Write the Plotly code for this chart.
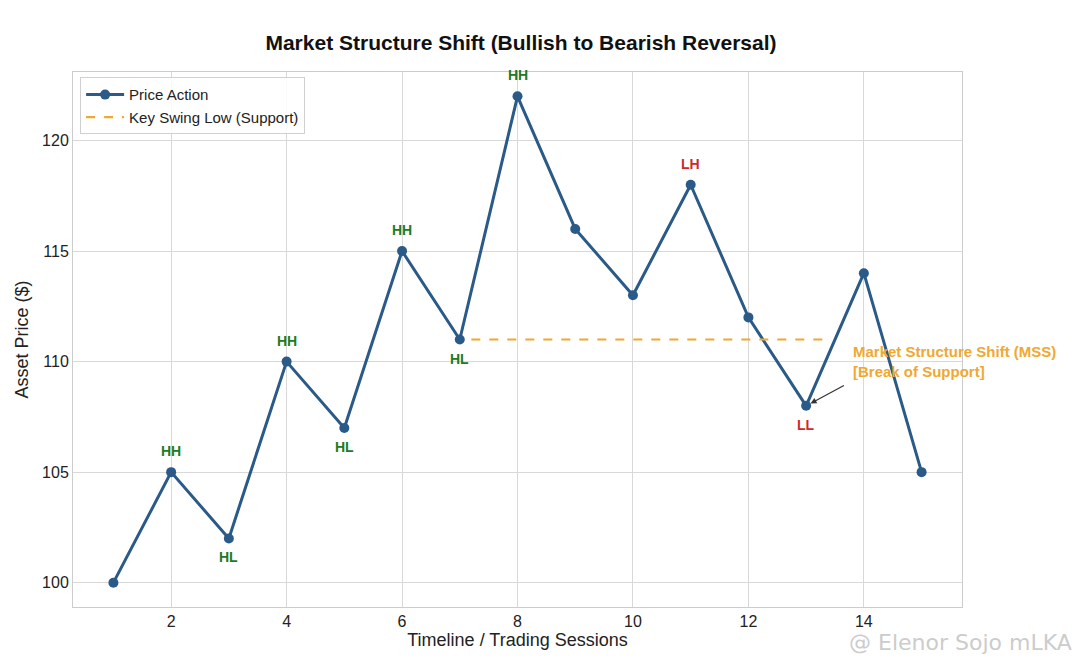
import plotly.graph_objects as go

sessions = list(range(1, 16))
prices = [100, 105, 102, 110, 107, 115, 111, 122, 116, 113, 118, 112, 108, 114, 105]

label_x = [2, 3, 4, 5, 6, 7, 8, 11, 13]
label_text = ["HH", "HL", "HH", "HL", "HH", "HL", "HH", "LH", "LL"]
label_pos = ["above", "below", "above", "below", "above", "below", "above", "above", "below"]
label_color = ["green", "green", "green", "green", "green", "green", "green", "red", "red"]

support_level = 111
support_x = [7.2, 13.3]

mss_x, mss_y = 13, 108
mss_text = "Market Structure Shift (MSS)<br>[Break of Support]"

LINE_C = "#2a5a87"
GREEN = "#217a21"
RED = "#cc2a2a"
ORANGE = "#f0a830"
col_map = {"green": GREEN, "red": RED}

fig = go.Figure()
fig.add_trace(go.Scatter(
    x=sessions, y=prices, mode="lines+markers", name="Price Action",
    line=dict(color=LINE_C, width=3), marker=dict(size=10, color=LINE_C)))
fig.add_trace(go.Scatter(
    x=support_x, y=[support_level, support_level], mode="lines",
    name="Key Swing Low (Support)",
    line=dict(color=ORANGE, width=2.2, dash="dash")))

annotations = []
for lx, lt, lp, lc in zip(label_x, label_text, label_pos, label_color):
    ly = prices[sessions.index(lx)]
    annotations.append(dict(
        x=lx, y=ly, text=f"<b>{lt}</b>", showarrow=False,
        yshift=21 if lp == "above" else -19,
        font=dict(family="Liberation Sans, Arial", size=14, color=col_map[lc])))

annotations.append(dict(
    x=13.77, y=110.0, text=f"<b>{mss_text}</b>", showarrow=False,
    xanchor="left", yanchor="middle", align="left",
    font=dict(family="Liberation Sans, Arial", size=15, color=ORANGE)))
annotations.append(dict(
    x=mss_x, y=mss_y, ax=13.68, ay=108.96, axref="x", ayref="y",
    text="", showarrow=True, arrowhead=2, arrowsize=1, arrowwidth=1.2,
    arrowcolor="#333333", standoff=5))
annotations.append(dict(
    x=1.0, y=0.0, xref="paper", yref="paper", xanchor="right", yanchor="middle",
    xshift=112, yshift=-35, text="@ Elenor Sojo mLKA", showarrow=False,
    font=dict(family="DejaVu Sans", size=22, color="#cccccc")))

fig.update_layout(
    width=1080, height=668,
    margin=dict(l=65, r=126, t=64, b=69),
    paper_bgcolor="white", plot_bgcolor="white",
    title=dict(text="<b>Market Structure Shift (Bullish to Bearish Reversal)</b>",
               x=0.475, xanchor="center", y=0.948, yanchor="middle",
               font=dict(family="Liberation Sans, Arial", size=21, color="#111111")),
    font=dict(family="Liberation Sans, Arial", size=16, color="#222222"),
    showlegend=True,
    legend=dict(x=0.008, y=0.99, xanchor="left", yanchor="top",
                bgcolor="rgba(255,255,255,0.85)", bordercolor="#d0d0d0", borderwidth=1,
                itemwidth=38, tracegroupgap=0,
                font=dict(size=15, color="#222222")),
    annotations=annotations,
)
fig.update_xaxes(
    range=[0.3, 15.7], tickvals=[2, 4, 6, 8, 10, 12, 14],
    title=dict(text="Timeline / Trading Sessions", font=dict(size=18), standoff=4),
    showgrid=True, gridcolor="#d9d9d9", gridwidth=1, zeroline=False,
    showline=True, linecolor="#cccccc", linewidth=1, mirror=True, ticks="")
fig.update_yaxes(
    range=[98.9, 123.1], tickvals=[100, 105, 110, 115, 120],
    title=dict(text="Asset Price ($)", font=dict(size=18), standoff=8),
    showgrid=True, gridcolor="#d9d9d9", gridwidth=1, zeroline=False,
    showline=True, linecolor="#cccccc", linewidth=1, mirror=True, ticks="")

fig.write_html("out.html")
